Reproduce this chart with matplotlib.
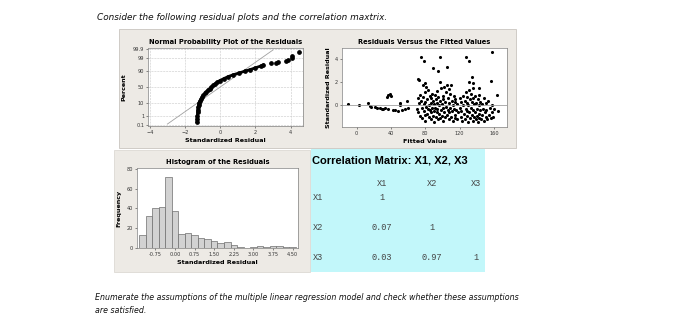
import math
import numpy as np
import matplotlib.pyplot as plt
from matplotlib.patches import Rectangle

# ---- data ----
# normal probability plot: (standardized residual, percent) along the curve
prob_resid = [-1.32, -1.31, -1.30, -1.28, -1.27, -1.25, -1.23, -1.20, -1.15, -1.10,
              -1.03, -0.95, -0.86, -0.78, -0.70, -0.60, -0.50, -0.40, -0.30, -0.18,
              -0.02, 0.20, 0.45, 0.75, 1.05, 1.40, 1.70, 2.00, 2.30, 2.45]
prob_pct = [0.25, 0.5, 1, 2, 3, 5, 7, 10, 13, 16,
            20, 25, 30, 35, 40, 45, 50, 55, 60, 65,
            70, 75, 80, 84, 87, 90, 92, 94, 95.5, 96.3]
prob_out_resid = [2.90, 3.15, 3.30, 3.75, 3.85, 4.05, 4.08, 4.50]
prob_out_pct = [97.2, 97.6, 97.8, 98.3, 98.5, 99.0, 99.4, 99.75]
ref_resid = [-3.0, 3.0]
ref_pct = [0.135, 99.865]
prob_ticks = [0.1, 1, 10, 50, 90, 99, 99.9]
prob_ticklabels = ['0.1', '1', '10', '50', '90', '99', '99.9']

# residuals versus fitted values
fitted = [-10, 3, 13, 15, 17, 21, 24, 27, 29, 31, 33, 35, 36, 37, 39, 40, 42, 45, 48, 50, 51, 53, 56, 59, 60,
          70, 71, 72, 73, 74, 74, 75, 76, 76, 77, 78, 78, 79, 79, 80, 80, 81, 82, 82, 83, 83, 84, 84, 85, 85,
          86, 86, 87, 87, 88, 88, 89, 89, 90, 90, 90,
          91, 91, 92, 92, 93, 93, 94, 94, 95, 95, 96, 96, 97, 97, 98, 98, 99, 99, 100, 100, 101, 101, 102, 102,
          103, 103, 104, 104, 105, 105, 106, 106, 107, 107, 108, 108, 109, 109, 110, 110, 111, 111, 112, 112,
          113, 113, 114, 114, 115, 115, 116, 117, 117, 118,
          120, 120, 121, 122, 122, 123, 124, 124, 125, 126, 126, 127, 127, 128, 128, 129, 129, 130, 130, 131,
          131, 132, 132, 133, 133, 134, 134, 135, 135, 136, 136, 137, 137, 138, 138, 139, 139, 140, 140, 141,
          141, 142, 142, 143, 143, 144, 144, 145, 146, 146, 147, 148, 148, 149, 150, 150, 151, 152, 153, 154,
          155, 156, 157, 158, 159, 160,
          74.5, 78, 71.4, 73, 77, 80, 81, 88.8, 95, 96.5, 97, 105, 127.4, 131, 131, 134, 135, 143, 156, 157,
          163, 164]
resid = [0.11, 0.0, 0.17, -0.06, -0.17, -0.17, -0.25, -0.2, -0.28, -0.33, -0.2, 0.69, 0.9, -0.3, 0.97, 0.83,
         -0.4, -0.4, -0.45, 0.03, 0.23, -0.4, -0.35, 0.4, -0.2,
         -0.3, 0.6, -0.6, 0.2, -0.9, 0.9, 0.4, -0.2, -1.1, 0.7, -0.5, 0.1, -0.8, 1.1, 0.3, -1.3, -0.1, 0.5,
         -0.7, -0.3, 1.3, 0.0, -1.0, 0.8, -0.4, -1.2, 0.2, 0.6, -0.6, -0.2, 1.0, -0.9, 0.4, -0.5, 0.1, -1.4,
         0.9, -0.2, -1.0, 0.5, -0.6, 0.2, 1.2, -0.3, -1.2, 0.7, 0.0, -0.7, 0.4, -1.1, 1.5, -0.4, 0.1, -0.9,
         0.8, -0.2, -1.3, 0.5, 1.6, -0.6, 0.3, -1.0, 1.1, -0.1, 1.7, -0.8, 0.6, -0.4, 1.4, -1.2, 0.2, -0.6,
         1.0, -0.2, 1.7, -1.0, 0.4, -0.5, 0.0, -1.3, 0.8, -0.3, -0.8, 0.3, -1.1, 0.5, -0.4, 0.1, -1.2, -0.6,
         -0.2, 0.6, -1.0, 0.3, -0.5, -1.3, 0.0, 0.8, -0.7, 0.4, -1.2, -0.3, 1.1, 0.2, -0.9, -0.5, 0.7, -1.4,
         0.0, 1.3, -0.6, 0.5, -1.1, -0.2, 1.0, -0.8, 0.3, -1.3, 0.6, -0.4, 1.5, 0.1, -1.0, -0.6, 0.8, -1.2,
         0.2, -0.3, -0.9, 0.5, -1.4, 0.0, -0.7, 0.9, -1.1, -0.4, 0.3, -1.2, 0.1, -0.8, -0.3, 0.6, -1.3, -0.6,
         0.2, -1.0, -0.4, -1.2, 0.4, -0.8, -0.2, -1.1, 0.0, -0.6, -1.0, -0.3,
         4.1, 3.83, 2.23, 2.2, 1.74, 1.94, 1.6, 3.17, 2.97, 4.1, 1.97, 3.31, 4.1, 3.83, 2.0, 2.46, 1.9, 1.46,
         2.1, 4.6, 0.9, -0.49]

# histogram of residuals (bin centres, counts)
hist_centers = [-1.25, -1.0, -0.75, -0.5, -0.25, 0.0, 0.25, 0.5, 0.75, 1.0, 1.25, 1.5,
                1.75, 2.0, 2.25, 2.5, 2.75, 3.0, 3.25, 3.5, 3.75, 4.0, 4.25, 4.5]
hist_counts = [13, 32, 40, 42, 72, 37, 14, 15, 13, 10, 9, 7,
               5, 6, 3, 1, 0, 1, 2, 1, 2, 2, 1, 1]
hist_ticks = [-0.75, 0.0, 0.75, 1.5, 2.25, 3.0, 3.75, 4.5]
hist_ticklabels = ['-0.75', '0.00', '0.75', '1.50', '2.25', '3.00', '3.75', '4.50']

# correlation matrix
var_names = ['X1', 'X2', 'X3']
corr_rows = [['1', '', ''], ['0.07', '1', ''], ['0.03', '0.97', '1']]

caption_top = 'Consider the following residual plots and the correlation maxtrix.'
caption_bottom = ('Enumerate the assumptions of the multiple linear regression model and check whether these assumptions\n'
                  'are satisfied.')

# ---- figure ----
W, H = 700, 329
fig = plt.figure(figsize=(7, 3.29), dpi=100)
fig.patch.set_facecolor('white')


def box(x0, y0, x1, y1):
    # pixel coords (top-left origin) -> figure fraction
    return [x0 / W, 1 - y1 / H, (x1 - x0) / W, (y1 - y0) / H]


def panel(x0, y0, x1, y1, fc, ec, lw):
    b = box(x0, y0, x1, y1)
    fig.patches.append(Rectangle(b[:2], b[2], b[3], transform=fig.transFigure,
                                 facecolor=fc, edgecolor=ec, lw=lw, zorder=-5))


panel_gray = '#edeae5'
panel(119, 29, 516, 148, panel_gray, '#c9c5bf', 0.6)
panel(114, 150, 310, 272, panel_gray, '#d8d4ce', 0.5)
panel(311, 149, 485, 272, '#c2f7fa', 'none', 0)

tick_kw = dict(labelsize=3.6, length=1.5, width=0.4, pad=1.2, colors='#333333')
title_kw = dict(fontsize=4.9, fontweight='bold', pad=3)
label_kw = dict(fontsize=4.6, fontweight='bold')


def style(ax):
    for s in ax.spines.values():
        s.set_linewidth(0.5)
        s.set_color('#808080')
    ax.tick_params(**tick_kw)


# normal probability scale
zgrid = np.linspace(-5, 5, 4001)
pgrid = 50 * (1 + np.array([math.erf(z / math.sqrt(2)) for z in zgrid]))


def p2z(p):
    return np.interp(p, pgrid, zgrid)


def z2p(z):
    return np.interp(z, zgrid, pgrid)


ax1 = fig.add_axes(box(148, 48, 303, 126))
ax1.set_yscale('function', functions=(p2z, z2p))
ax1.plot(ref_resid, ref_pct, color='#a0a0a0', lw=0.6)
ax1.plot(prob_resid, prob_pct, '-o', color='black', lw=2.0, ms=2.4)
ax1.plot(prob_out_resid, prob_out_pct, 'o', color='black', ms=2.4)
ax1.set_xlim(-4.1, 4.7)
ax1.set_ylim(0.08, 99.92)
ax1.set_xticks([-4, -2, 0, 2, 4])
ax1.set_yticks(prob_ticks)
ax1.set_yticklabels(prob_ticklabels)
ax1.minorticks_off()
ax1.grid(True, ls='--', lw=0.4, color='#c8c8c8')
ax1.set_axisbelow(True)
ax1.set_title('Normal Probability Plot of the Residuals', **title_kw)
ax1.set_xlabel('Standardized Residual', labelpad=2, **label_kw)
ax1.set_ylabel('Percent', labelpad=5, **label_kw)
style(ax1)

ax2 = fig.add_axes(box(342, 48, 507, 127))
ax2.axhline(0, color='#a0a0a0', lw=0.6)
ax2.scatter(fitted, resid, s=5, color='black', linewidths=0)
ax2.set_xlim(-17, 175)
ax2.set_ylim(-1.85, 4.9)
ax2.set_xticks([0, 40, 80, 120, 160])
ax2.set_yticks([0, 2, 4])
ax2.set_title('Residuals Versus the Fitted Values', **title_kw)
ax2.set_xlabel('Fitted Value', labelpad=2, **label_kw)
ax2.set_ylabel('Standardized Residual', labelpad=3, **label_kw)
style(ax2)

ax3 = fig.add_axes(box(137, 168, 298, 248))
ax3.bar(hist_centers, hist_counts, width=0.25, color='#d2d2d2', edgecolor='#6e6e6e', lw=0.5)
ax3.set_xlim(-1.45, 4.7)
ax3.set_ylim(0, 81)
ax3.set_xticks(hist_ticks)
ax3.set_xticklabels(hist_ticklabels)
ax3.set_yticks([0, 20, 40, 60, 80])
ax3.set_title('Histogram of the Residuals', **title_kw)
ax3.set_xlabel('Standardized Residual', labelpad=2, **label_kw)
ax3.set_ylabel('Frequency', labelpad=4, **label_kw)
style(ax3)

# correlation matrix text
fig.text(312 / W, 1 - 161 / H, 'Correlation Matrix: X1, X2, X3', fontsize=8, fontweight='bold',
         family='Liberation Sans', va='center', ha='left')
col_x = [382, 432, 476]
row_y = [197, 227, 258]
mono = dict(family='Liberation Mono', fontsize=6.2, color='#444444', va='center')
for j, name in enumerate(var_names):
    fig.text(col_x[j] / W, 1 - 184 / H, name, ha='center', **mono)
for i, name in enumerate(var_names):
    fig.text(313 / W, 1 - row_y[i] / H, name, ha='left', **mono)
    for j, val in enumerate(corr_rows[i]):
        if val:
            fig.text(col_x[j] / W, 1 - row_y[i] / H, val, ha='center', **mono)

cap = dict(style='italic', family='DejaVu Sans', color='#111111', va='center', ha='left')
fig.text(97 / W, 1 - 17 / H, caption_top, fontsize=6.4, **cap)
fig.text(95 / W, 1 - 304 / H, caption_bottom, fontsize=5.7, linespacing=1.7, **cap)

fig.savefig('out.png', dpi=100)
